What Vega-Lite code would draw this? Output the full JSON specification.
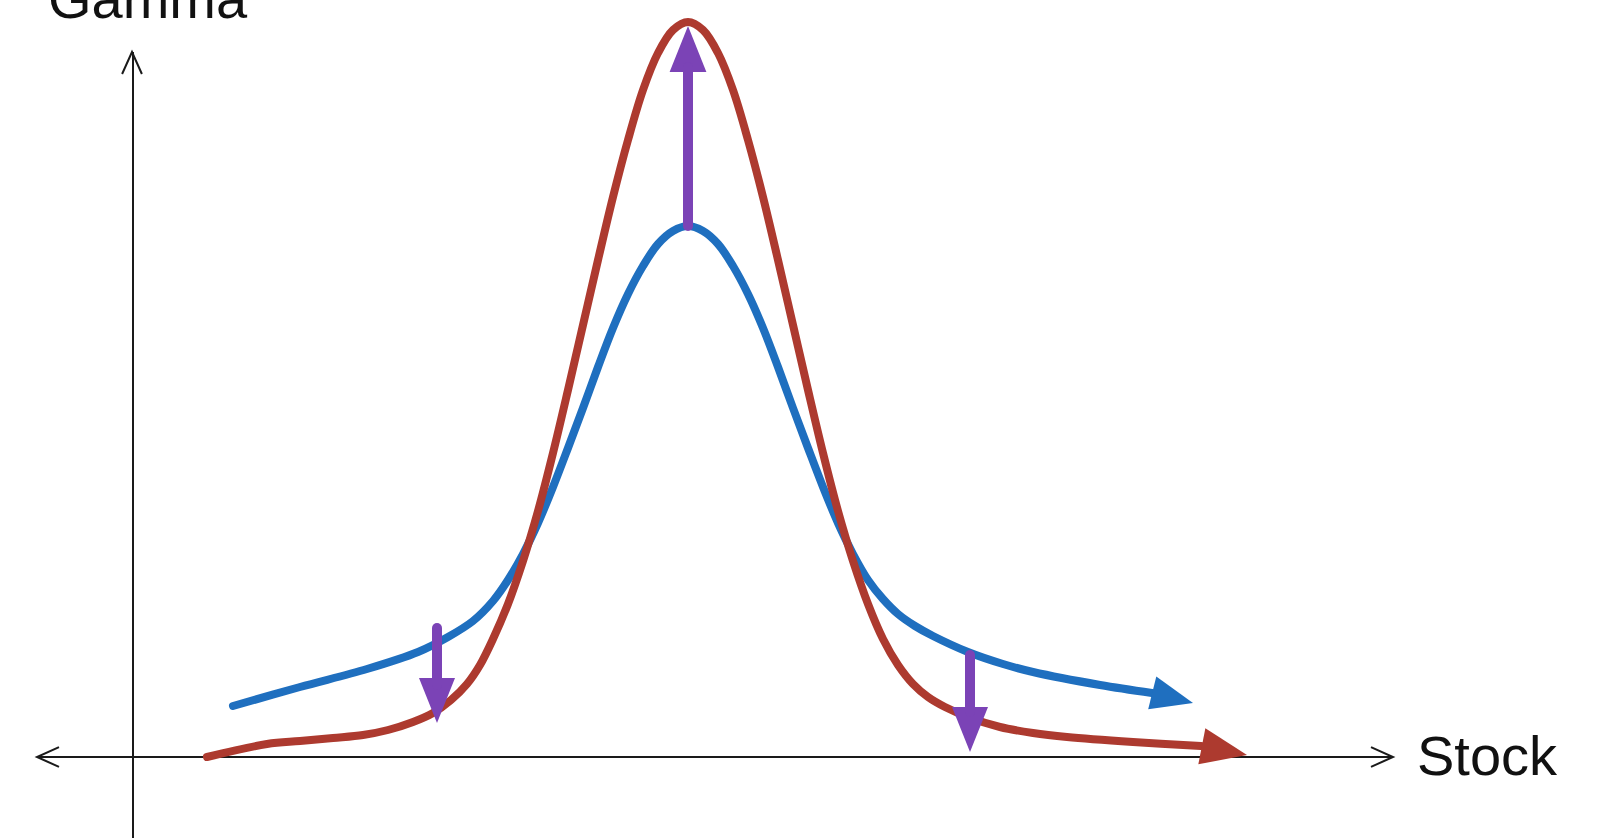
{
  "$schema": "https://vega.github.io/schema/vega-lite/v6.json",
  "description": "Gamma vs stock price: gamma rises at the money and falls away from it",
  "width": 1600,
  "height": 838,
  "autosize": {"type": "none"},
  "padding": 0,
  "background": "white",
  "config": {"view": {"stroke": null}},
  "datasets": {
    "curves": [
      {"series": "low", "stock": 100, "gamma": 51},
      {"series": "low", "stock": 167, "gamma": 70},
      {"series": "low", "stock": 234, "gamma": 88},
      {"series": "low", "stock": 285, "gamma": 105},
      {"series": "low", "stock": 315, "gamma": 120},
      {"series": "low", "stock": 340, "gamma": 136},
      {"series": "low", "stock": 360, "gamma": 156},
      {"series": "low", "stock": 375, "gamma": 177},
      {"series": "low", "stock": 390, "gamma": 203},
      {"series": "low", "stock": 405, "gamma": 234},
      {"series": "low", "stock": 420, "gamma": 270},
      {"series": "low", "stock": 435, "gamma": 309},
      {"series": "low", "stock": 450, "gamma": 349},
      {"series": "low", "stock": 465, "gamma": 390},
      {"series": "low", "stock": 480, "gamma": 429},
      {"series": "low", "stock": 495, "gamma": 463},
      {"series": "low", "stock": 510, "gamma": 491},
      {"series": "low", "stock": 525, "gamma": 513},
      {"series": "low", "stock": 540, "gamma": 526},
      {"series": "low", "stock": 555, "gamma": 531},
      {"series": "low", "stock": 570, "gamma": 526},
      {"series": "low", "stock": 585, "gamma": 513},
      {"series": "low", "stock": 600, "gamma": 491},
      {"series": "low", "stock": 615, "gamma": 463},
      {"series": "low", "stock": 630, "gamma": 429},
      {"series": "low", "stock": 645, "gamma": 390},
      {"series": "low", "stock": 660, "gamma": 349},
      {"series": "low", "stock": 675, "gamma": 309},
      {"series": "low", "stock": 690, "gamma": 270},
      {"series": "low", "stock": 705, "gamma": 234},
      {"series": "low", "stock": 720, "gamma": 203},
      {"series": "low", "stock": 735, "gamma": 177},
      {"series": "low", "stock": 750, "gamma": 158},
      {"series": "low", "stock": 765, "gamma": 143},
      {"series": "low", "stock": 782, "gamma": 131},
      {"series": "low", "stock": 800, "gamma": 121},
      {"series": "low", "stock": 835, "gamma": 105},
      {"series": "low", "stock": 870, "gamma": 93},
      {"series": "low", "stock": 900, "gamma": 85},
      {"series": "low", "stock": 967, "gamma": 72},
      {"series": "low", "stock": 1019, "gamma": 64},
      {"series": "high", "stock": 74, "gamma": 0},
      {"series": "high", "stock": 134, "gamma": 13},
      {"series": "high", "stock": 167, "gamma": 16},
      {"series": "high", "stock": 200, "gamma": 19},
      {"series": "high", "stock": 230, "gamma": 22},
      {"series": "high", "stock": 255, "gamma": 27},
      {"series": "high", "stock": 280, "gamma": 35},
      {"series": "high", "stock": 300, "gamma": 44},
      {"series": "high", "stock": 318, "gamma": 57},
      {"series": "high", "stock": 334, "gamma": 73},
      {"series": "high", "stock": 347, "gamma": 92},
      {"series": "high", "stock": 360, "gamma": 118},
      {"series": "high", "stock": 375, "gamma": 153},
      {"series": "high", "stock": 390, "gamma": 196},
      {"series": "high", "stock": 405, "gamma": 246},
      {"series": "high", "stock": 420, "gamma": 304},
      {"series": "high", "stock": 435, "gamma": 367},
      {"series": "high", "stock": 450, "gamma": 432},
      {"series": "high", "stock": 465, "gamma": 497},
      {"series": "high", "stock": 480, "gamma": 560},
      {"series": "high", "stock": 495, "gamma": 617},
      {"series": "high", "stock": 510, "gamma": 667},
      {"series": "high", "stock": 525, "gamma": 704},
      {"series": "high", "stock": 540, "gamma": 727},
      {"series": "high", "stock": 555, "gamma": 735},
      {"series": "high", "stock": 570, "gamma": 727},
      {"series": "high", "stock": 585, "gamma": 704},
      {"series": "high", "stock": 600, "gamma": 667},
      {"series": "high", "stock": 615, "gamma": 617},
      {"series": "high", "stock": 630, "gamma": 560},
      {"series": "high", "stock": 645, "gamma": 497},
      {"series": "high", "stock": 660, "gamma": 432},
      {"series": "high", "stock": 675, "gamma": 367},
      {"series": "high", "stock": 690, "gamma": 304},
      {"series": "high", "stock": 705, "gamma": 246},
      {"series": "high", "stock": 720, "gamma": 196},
      {"series": "high", "stock": 735, "gamma": 153},
      {"series": "high", "stock": 750, "gamma": 118},
      {"series": "high", "stock": 765, "gamma": 92},
      {"series": "high", "stock": 780, "gamma": 73},
      {"series": "high", "stock": 795, "gamma": 60},
      {"series": "high", "stock": 812, "gamma": 50},
      {"series": "high", "stock": 835, "gamma": 40},
      {"series": "high", "stock": 867, "gamma": 30},
      {"series": "high", "stock": 900, "gamma": 24},
      {"series": "high", "stock": 934, "gamma": 20},
      {"series": "high", "stock": 1000, "gamma": 15},
      {"series": "high", "stock": 1068, "gamma": 11}
    ],
    "shifts": [
      {"series": "shift", "stock": 555, "from": 531, "to": 690},
      {"series": "shift", "stock": 304, "from": 129, "to": 72},
      {"series": "shift", "stock": 837, "from": 102, "to": 45}
    ],
    "heads": [
      {"series": "shift", "dir": "up", "stock": 555, "gamma": 731},
      {"series": "shift", "dir": "down", "stock": 304, "gamma": 34},
      {"series": "shift", "dir": "down", "stock": 837, "gamma": 5},
      {"series": "low", "dir": "right", "stock": 1060, "gamma": 54},
      {"series": "high", "dir": "right", "stock": 1114, "gamma": 2}
    ],
    "axes": [
      {"name": "Stock", "stock": -96, "gamma": 0, "stock_end": 1260, "gamma_end": 0},
      {"name": "Gamma", "stock": 0, "gamma": 705, "stock_end": 0, "gamma_end": -81}
    ],
    "axisTips": [
      {"dir": "up", "stock": -1, "gamma": 705},
      {"dir": "right", "stock": 1260, "gamma": 0},
      {"dir": "left", "stock": -96, "gamma": 0}
    ],
    "labels": [
      {"text": "Gamma", "stock": -85, "gamma": 739},
      {"text": "Stock", "stock": 1284, "gamma": -18}
    ]
  },
  "encoding": {
    "x": {"field": "stock", "type": "quantitative", "axis": null,
          "scale": {"domain": [-133, 1467], "nice": false, "zero": false}},
    "y": {"field": "gamma", "type": "quantitative", "axis": null,
          "scale": {"domain": [-81, 757], "nice": false, "zero": false}}
  },
  "layer": [
    {
      "data": {"name": "axes"},
      "mark": {"type": "rule", "color": "#1a1a1a", "strokeWidth": 2},
      "encoding": {"x2": {"field": "stock_end"}, "y2": {"field": "gamma_end"}}
    },
    {
      "data": {"name": "axisTips"},
      "transform": [{"filter": "datum.dir === 'up'"}],
      "mark": {"type": "point", "shape": "M-0.45,1L0,0L0.45,1", "size": 1936, "filled": false,
               "stroke": "#1a1a1a", "strokeWidth": 2, "opacity": 1, "angle": 0}
    },
    {
      "data": {"name": "axisTips"},
      "transform": [{"filter": "datum.dir === 'right'"}],
      "mark": {"type": "point", "shape": "M-0.45,1L0,0L0.45,1", "size": 1936, "filled": false,
               "stroke": "#1a1a1a", "strokeWidth": 2, "opacity": 1, "angle": 90}
    },
    {
      "data": {"name": "axisTips"},
      "transform": [{"filter": "datum.dir === 'left'"}],
      "mark": {"type": "point", "shape": "M-0.45,1L0,0L0.45,1", "size": 1936, "filled": false,
               "stroke": "#1a1a1a", "strokeWidth": 2, "opacity": 1, "angle": 270}
    },
    {
      "data": {"name": "labels"},
      "mark": {"type": "text", "align": "left", "baseline": "alphabetic", "font": "Liberation Sans",
               "fontSize": 56, "color": "#111"},
      "encoding": {"text": {"field": "text"}}
    },
    {
      "data": {"name": "curves"},
      "mark": {"type": "line", "interpolate": "catmull-rom", "strokeWidth": 8, "strokeCap": "round"},
      "encoding": {
        "detail": {"field": "series"},
        "color": {"field": "series", "type": "nominal", "legend": null,
                  "scale": {"domain": ["low", "high", "shift"], "range": ["#1f6fbf", "#ad3a2f", "#7b43b6"]}},
        "order": {"field": "stock"}
      }
    },
    {
      "data": {"name": "heads"},
      "transform": [{"filter": "datum.dir === 'up'"}],
      "mark": {"type": "point", "shape": "M0,0L0.4,1L-0.4,1Z", "size": 8464, "filled": true,
               "opacity": 1, "angle": 0},
      "encoding": {"color": {"field": "series", "type": "nominal", "legend": null}}
    },
    {
      "data": {"name": "heads"},
      "transform": [{"filter": "datum.dir === 'down'"}],
      "mark": {"type": "point", "shape": "M0,0L0.4,1L-0.4,1Z", "size": 8100, "filled": true,
               "opacity": 1, "angle": 180},
      "encoding": {"color": {"field": "series", "type": "nominal", "legend": null}}
    },
    {
      "data": {"name": "heads"},
      "transform": [{"filter": "datum.dir === 'right' && datum.series === 'low'"}],
      "mark": {"type": "point", "shape": "M0,0L0.4,1L-0.4,1Z", "size": 7056, "filled": true,
               "opacity": 1, "angle": 104},
      "encoding": {"color": {"field": "series", "type": "nominal", "legend": null}}
    },
    {
      "data": {"name": "heads"},
      "transform": [{"filter": "datum.dir === 'right' && datum.series === 'high'"}],
      "mark": {"type": "point", "shape": "M0,0L0.4,1L-0.4,1Z", "size": 8464, "filled": true,
               "opacity": 1, "angle": 101},
      "encoding": {"color": {"field": "series", "type": "nominal", "legend": null}}
    },
    {
      "data": {"name": "shifts"},
      "mark": {"type": "rule", "strokeWidth": 10, "strokeCap": "round"},
      "encoding": {
        "y": {"field": "from", "type": "quantitative"},
        "y2": {"field": "to"},
        "color": {"field": "series", "type": "nominal", "legend": null}
      }
    }
  ]
}
